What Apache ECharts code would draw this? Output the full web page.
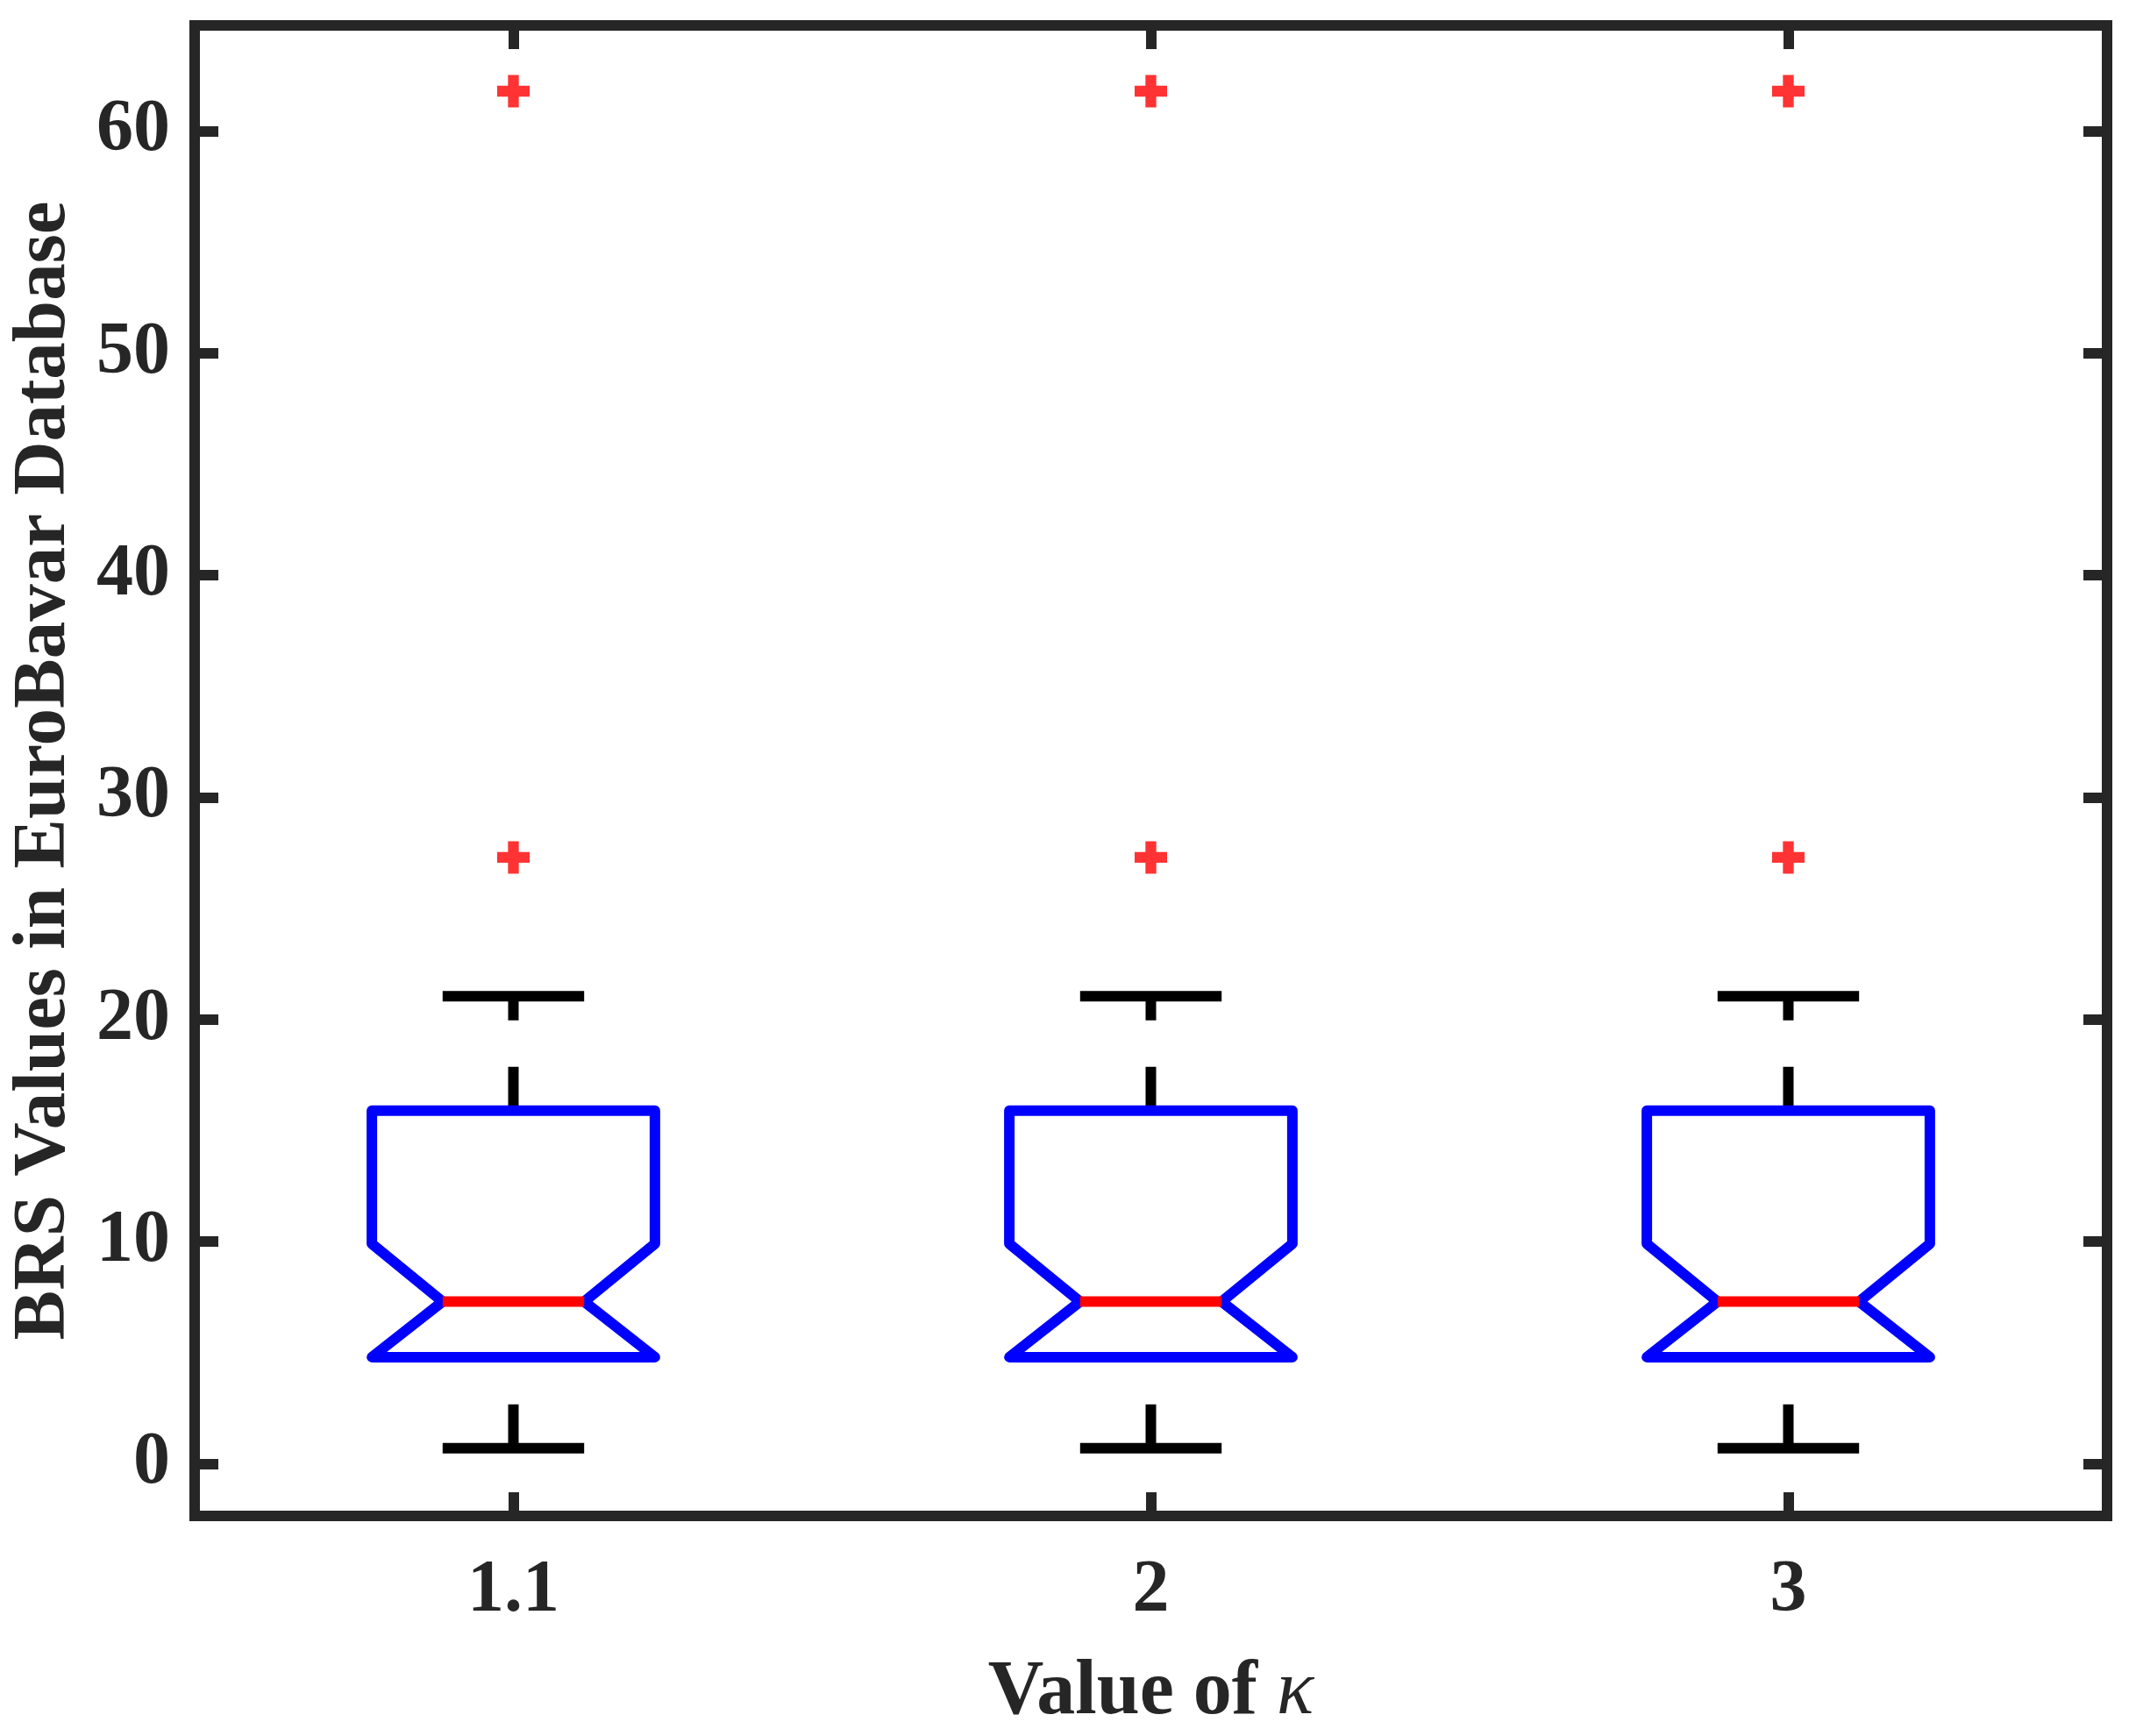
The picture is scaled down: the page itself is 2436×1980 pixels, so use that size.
<!DOCTYPE html>
<html>
<head>
<meta charset="utf-8">
<script src="https://cdn.jsdelivr.net/npm/echarts@6/dist/echarts.min.js"></script>
<style>
html,body{margin:0;padding:0;background:#fff;}
#chart{width:2436px;height:1980px;}
</style>
</head>
<body>
<div id="chart"></div>
<script>
// ---- data ----
const categories = ['1.1', '2', '3'];
const lowerWhisker = [0.7, 0.7, 0.7];
const q1 = [4.8, 4.8, 4.8];
const notchLow = [4.8, 4.8, 4.8];
const median = [7.3, 7.3, 7.3];
const notchHigh = [9.9, 9.9, 9.9];
const q3 = [15.9, 15.9, 15.9];
const upperWhisker = [21.05, 21.05, 21.05];
const outliers = [[27.3, 61.8], [27.3, 61.8], [27.3, 61.8]];
const yMin = -2.35, yMax = 64.76;

const boxData = categories.map((c, i) => [i, lowerWhisker[i], q1[i], notchLow[i], median[i], notchHigh[i], q3[i], upperWhisker[i]]);
const outlierData = [];
categories.forEach((c, i) => outliers[i].forEach(v => outlierData.push([i, v])));

const FONT = 'Liberation Serif';
const TXT = '#262626';
const BOX_HALF = 0.222, NOTCH_HALF = 0.111, CAP_HALF = 0.111;

function renderBox(params, api) {
  const i = api.value(0);
  const lw = api.value(1), b1 = api.value(2), nLo = api.value(3), md = api.value(4), nHi = api.value(5), b3 = api.value(6), uw = api.value(7);
  const band = api.size([1, 0])[0];
  const cx = api.coord([i, 0])[0];
  const y = v => api.coord([i, v])[1];
  const L = cx - BOX_HALF * band, R = cx + BOX_HALF * band;
  const nL = cx - NOTCH_HALF * band, nR = cx + NOTCH_HALF * band;
  const cL = cx - CAP_HALF * band, cR = cx + CAP_HALF * band;
  const blue = '#0000ff', red = '#ff0000', black = '#000000';
  const lwpx = 12;
  return {
    type: 'group',
    children: [
      { type: 'line', shape: { x1: cx, y1: y(b3), x2: cx, y2: y(uw) },
        style: { stroke: black, lineWidth: lwpx, lineDash: [50, 53], lineCap: 'butt' } },
      { type: 'line', shape: { x1: cx, y1: y(lw), x2: cx, y2: y(b1) },
        style: { stroke: black, lineWidth: lwpx, lineDash: [50, 53], lineCap: 'butt' } },
      { type: 'line', shape: { x1: cL, y1: y(uw), x2: cR, y2: y(uw) },
        style: { stroke: black, lineWidth: lwpx, lineCap: 'butt' } },
      { type: 'line', shape: { x1: cL, y1: y(lw), x2: cR, y2: y(lw) },
        style: { stroke: black, lineWidth: lwpx, lineCap: 'butt' } },
      { type: 'polygon', shape: { points: [
          [L, y(b3)], [R, y(b3)], [R, y(nHi)], [nR, y(md)], [R, y(nLo)], [R, y(b1)],
          [L, y(b1)], [L, y(nLo)], [nL, y(md)], [L, y(nHi)] ] },
        style: { fill: 'none', stroke: blue, lineWidth: lwpx, lineJoin: 'round' } },
      { type: 'line', shape: { x1: nL, y1: y(md), x2: nR, y2: y(md) },
        style: { stroke: red, lineWidth: lwpx, lineCap: 'butt' } }
    ]
  };
}

function tickStyle() { return { show: true, inside: true, length: 27, lineStyle: { color: TXT, width: 12 } }; }
const labelFont = { fontFamily: FONT, fontWeight: 'bold', fontSize: 84, color: TXT };
const hiddenLine = { show: false, onZero: false };

const chart = echarts.init(document.getElementById('chart'), null, { renderer: 'canvas' });
chart.setOption({
  backgroundColor: '#ffffff',
  animation: false,
  grid: { left: 222, right: 33, top: 29, bottom: 251, show: true, borderColor: TXT, borderWidth: 12, backgroundColor: 'transparent' },
  xAxis: [
    { type: 'category', data: categories, position: 'bottom', boundaryGap: true,
      axisLine: hiddenLine, axisTick: Object.assign({ alignWithLabel: true }, tickStyle()),
      axisLabel: Object.assign({ margin: 44 }, labelFont), splitLine: { show: false },
      name: '{b|Value of }{k|κ}', nameLocation: 'middle', nameGap: 158,
      nameTextStyle: { rich: {
        b: { fontFamily: FONT, fontWeight: 'bold', fontSize: 88, color: TXT },
        k: { fontFamily: FONT, fontStyle: 'italic', fontWeight: 'normal', fontSize: 88, color: TXT }
      } } },
    { type: 'category', data: categories, position: 'top', boundaryGap: true,
      axisLine: hiddenLine, axisTick: Object.assign({ alignWithLabel: true }, tickStyle()),
      axisLabel: { show: false }, splitLine: { show: false } }
  ],
  yAxis: [
    { type: 'value', min: yMin, max: yMax, position: 'left',
      axisLine: hiddenLine, axisTick: tickStyle(), splitLine: { show: false },
      axisLabel: Object.assign({ margin: 28, showMinLabel: false, showMaxLabel: false,
        formatter: v => (Math.abs(v / 10 - Math.round(v / 10)) < 1e-6 ? String(Math.round(v)) : '') }, labelFont),
      name: 'BRS Values in EuroBavar Database', nameLocation: 'middle', nameGap: 128,
      nameTextStyle: { fontFamily: FONT, fontWeight: 'bold', fontSize: 85, color: TXT } },
    { type: 'value', min: yMin, max: yMax, position: 'right',
      axisLine: hiddenLine, axisTick: tickStyle(), splitLine: { show: false },
      axisLabel: { show: false } }
  ],
  series: [
    { type: 'custom', xAxisIndex: 0, yAxisIndex: 0, data: boxData, renderItem: renderBox,
      encode: { x: 0, y: [1, 2, 3, 4, 5, 6, 7] }, z: 3, silent: true },
    { type: 'scatter', xAxisIndex: 0, yAxisIndex: 0, data: outlierData,
      symbol: 'path://M4,0h4v4h4v4h-4v4h-4v-4h-4v-4h4z', symbolSize: 37,
      itemStyle: { color: '#ff0000' }, z: 4, silent: true }
  ]
});
</script>
</body>
</html>
